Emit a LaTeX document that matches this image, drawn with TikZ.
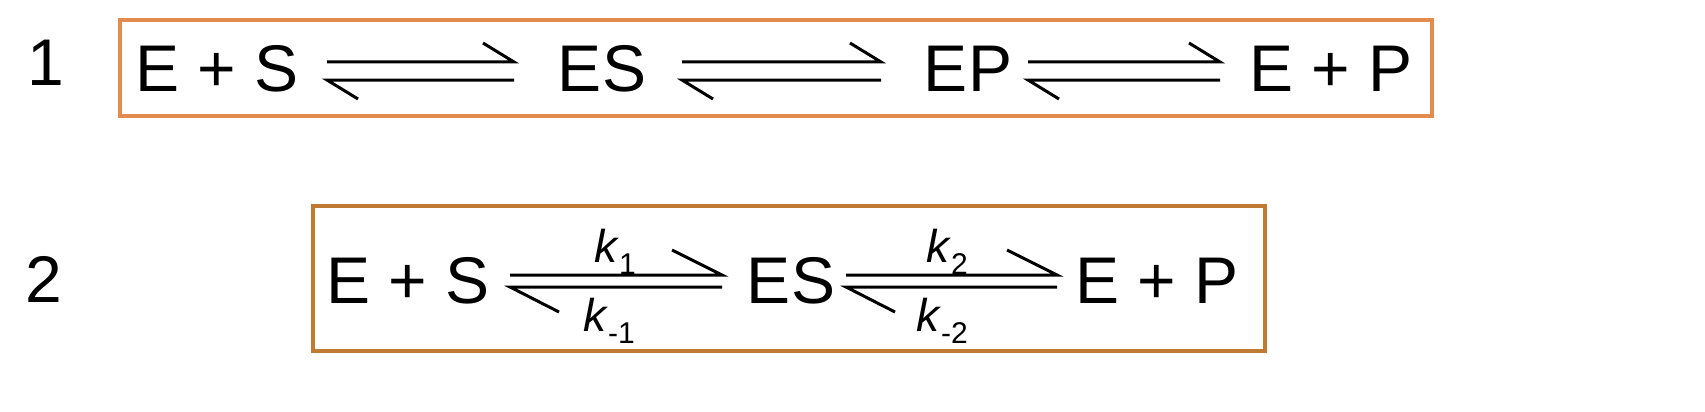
\documentclass[tikz,border=0pt]{standalone}
\usepackage{fontspec}
\setmainfont{Liberation Sans}
\definecolor{boxone}{RGB}{228,140,80}
\definecolor{boxtwo}{RGB}{192,122,52}
\newcommand{\kconst}[1]{\textit{k}\raisebox{-0.28em}{\fontsize{30}{30}\selectfont #1}}
\begin{document}
\begin{tikzpicture}[x=1pt,y=-1pt,
  species/.style={inner sep=0pt, anchor=base, font=\fontsize{66}{66}\selectfont},
  rate/.style={inner sep=0pt, anchor=base, font=\fontsize{46}{46}\selectfont},
  rxn/.style={line width=3pt, line cap=butt, line join=miter},
  frameone/.style={draw=boxone, line width=4pt, inner sep=0pt},
  frametwo/.style={draw=boxtwo, line width=4pt, inner sep=0pt}]
\useasboundingbox (0,0) rectangle (1705,412);
\fill[white] (0,0) rectangle (1705,412);

% boxes
\node[frameone, minimum width=1312pt, minimum height=96pt] (box1) at (776,68) {};
\node[frametwo, minimum width=952pt, minimum height=145pt] (box2) at (789,278.5) {};

% row labels
\node[species] (n1) at (46,85) {1};
\node[species] (n2) at (44,302) {2};

% row 1
\node[species] (r1a) at (217,92) {E + S};
\node[species] (r1b) at (602,92) {ES};
\node[species] (r1c) at (968,92) {EP};
\node[species] (r1d) at (1331,92) {E + P};

\coordinate (a1s) at (327,71); \coordinate (a1e) at (514,71);
\coordinate (b1s) at (682,71); \coordinate (b1e) at (881,71);
\coordinate (c1s) at (1028,71); \coordinate (c1e) at (1220,71);
\foreach \s/\e in {a1s/a1e,b1s/b1e,c1s/c1e}{
  \draw[rxn] ([yshift=9pt]\s) -- ([yshift=9pt]\e) -- +(-31,-19);
  \draw[rxn] ([yshift=-9pt]\e) -- ([yshift=-9pt]\s) -- +(31,19);
}

% row 2
\node[species] (r2a) at (408,303) {E + S};
\node[species] (r2b) at (791,303) {ES};
\node[species] (r2c) at (1157,303) {E + P};

\coordinate (a2s) at (510,281); \coordinate (a2e) at (722,281);
\coordinate (b2s) at (846,281); \coordinate (b2e) at (1057,281);
\foreach \s/\e in {a2s/a2e,b2s/b2e}{
  \draw[rxn] ([yshift=6pt]\s) -- ([yshift=6pt]\e) -- +(-50,-25);
  \draw[rxn] ([yshift=-6pt]\e) -- ([yshift=-6pt]\s) -- +(49,25);
}

\node[rate] (k1) at (615,262) {\kconst{1}};
\node[rate] (km1) at (609,331) {\kconst{-1}};
\node[rate] (k2) at (947,262) {\kconst{2}};
\node[rate] (km2) at (942,331) {\kconst{-2}};
\end{tikzpicture}
\end{document}
